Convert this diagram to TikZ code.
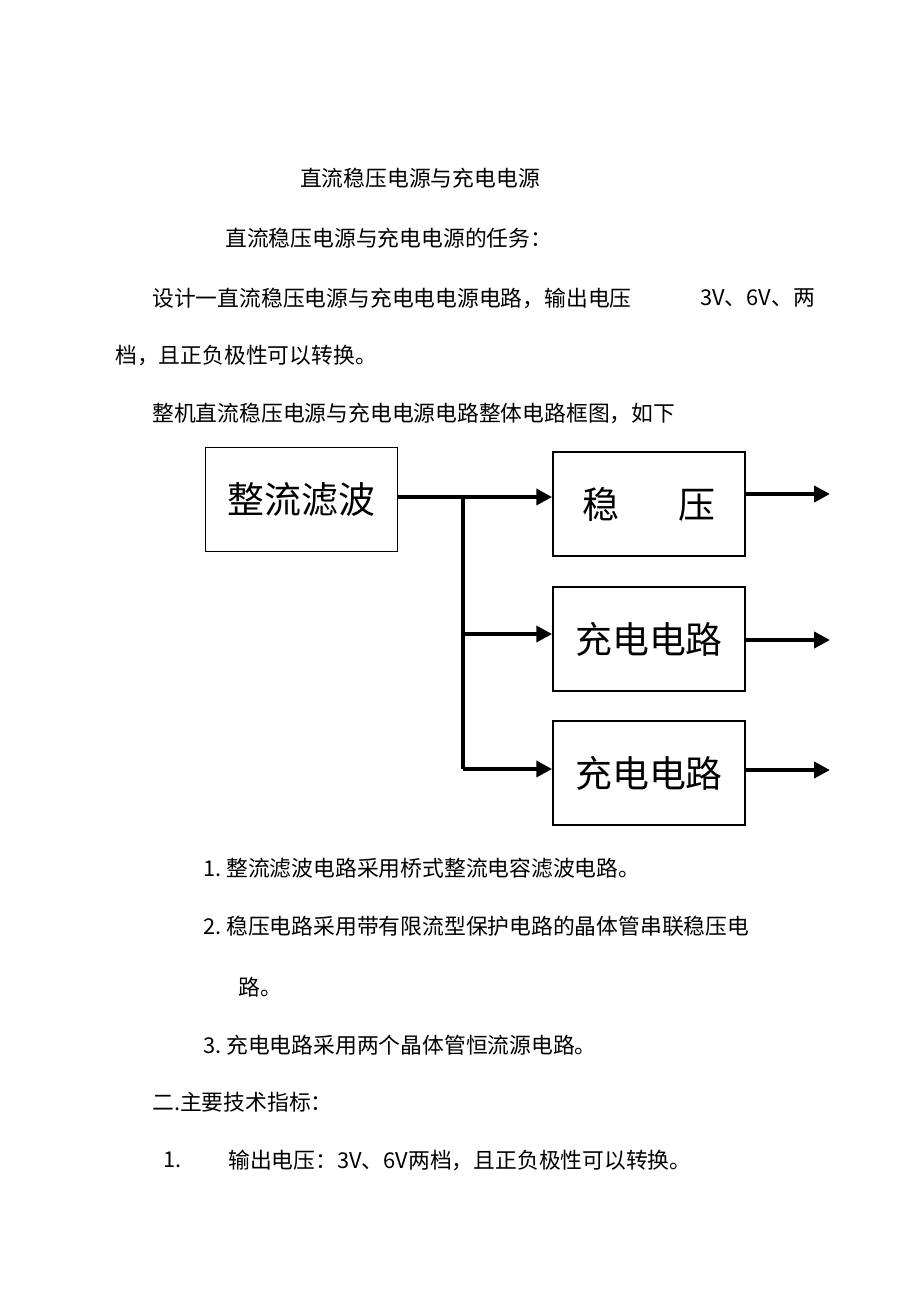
\documentclass[tikz,border=0pt]{standalone}
\usepackage{fontspec}
\newfontfamily\cjk{Noto Sans CJK SC}
\usetikzlibrary{arrows.meta}
\tikzset{
  txt/.style={anchor=west,inner sep=0pt,font=\cjk\fontsize{12.4}{14}\selectfont},
  blk/.style={draw,line width=1pt,inner sep=0pt,minimum width=3.84cm,minimum height=2.08cm,font=\cjk\fontsize{21}{24}\selectfont},
  flow/.style={line width=2.4pt,-{Triangle[length=9pt,width=9pt]}},
}
\begin{document}
\begin{tikzpicture}[x=0.02cm,y=-0.02cm]
    \useasboundingbox (0,0) rectangle (920,1301);
    % heading lines
    \node[txt,anchor=center] (title) at (420,178) {直流稳压电源与充电电源};
    \node[txt] (task) at (225,238) {直流稳压电源与充电电源的任务：};
    \node[txt] (l3) at (152,298) {设计一直流稳压电源与充电电电源电路，输出电压};
    \node[txt] (l3b) at (700,298) {3V、6V、两};
    \node[txt] (l4) at (115,355) {档，且正负极性可以转换。};
    \node[txt] (l5) at (152,413) {整机直流稳压电源与充电电源电路整体电路框图，如下};
    % blocks
    \node[blk] (filt) at (301.5,499.5) {整流滤波};
    \node[blk] (reg) at (649,504) {稳\hspace{1.6em}压};
    \node[blk] (chg1) at (649,639) {充电电路};
    \node[blk] (chg2) at (649,773) {充电电路};
    % connectors
    \coordinate (j) at (463,497);
    \coordinate (jm) at (463,634);
    \coordinate (jb) at (463,769);
    \draw[flow] (filt.east |- j) -- (reg.west |- j);
    \draw[line width=2.4pt] (j) -- (jb);
    \draw[flow] (jm) -- (chg1.west |- jm);
    \draw[flow] (jb) -- (chg2.west |- jb);
    \foreach \b/\y/\n in {reg/494/o1, chg1/640/o2, chg2/770/o3}{
      \coordinate (\n) at (830,\y);
      \draw[flow] (\b.east |- \n) -- (\n);
    }
    % list
    \node[txt] (i1) at (203,868) {1.\ 整流滤波电路采用桥式整流电容滤波电路。};
    \node[txt] (i2) at (203,926) {2.\ 稳压电路采用带有限流型保护电路的晶体管串联稳压电};
    \node[txt] (i2b) at (238,987) {路。};
    \node[txt] (i3) at (203,1045) {3.\ 充电电路采用两个晶体管恒流源电路。};
    \node[txt] (sec) at (152,1102) {二.主要技术指标：};
    \node[txt] (n1) at (163,1160) {1.};
    \node[txt] (n1t) at (228,1160) {输出电压：3V、6V两档，且正负极性可以转换。};
\end{tikzpicture}
\end{document}
